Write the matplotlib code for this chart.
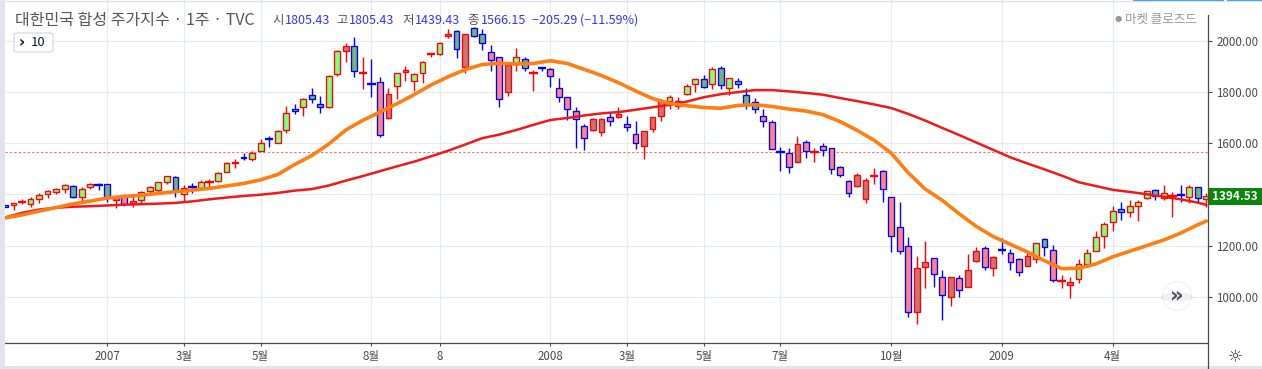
import numpy as np
import pandas as pd
import matplotlib
matplotlib.use('Agg')
import matplotlib.pyplot as plt
from matplotlib.patches import Rectangle, Circle, FancyBboxPatch
from matplotlib.lines import Line2D

plt.rcParams['font.family'] = ['Noto Sans CJK KR', 'DejaVu Sans']

# 주봉 (2006-10-09 ~ 2009-06-22)
weeks = pd.date_range('2006-10-09', periods=142, freq='W-MON')

opens = [1358, 1359, 1370, 1363, 1381, 1400, 1411, 1420, 1432, 1389, 1428, 1437.5,
         1440, 1378, 1398, 1368, 1378, 1415, 1417, 1450, 1467, 1401, 1429.5, 1424,
         1447, 1454, 1489, 1522, 1548, 1537, 1571, 1616.5, 1602, 1652, 1734, 1741,
         1789, 1754, 1741, 1870, 1962, 1980, 1876, 1831.5, 1839, 1700, 1825, 1878,
         1845, 1874, 1948, 1948, 2020, 2040, 1900, 2050, 2026, 1956, 1936, 1802,
         1909, 1928, 1876, 1893.5, 1889, 1815, 1780, 1726, 1668, 1652, 1645, 1702,
         1702, 1675, 1635, 1589, 1656, 1707, 1767, 1746, 1792, 1831, 1850, 1831,
         1893, 1817, 1845, 1789, 1763, 1707, 1682, 1567.5, 1561, 1528, 1606, 1567,
         1590, 1580, 1506, 1453, 1434, 1381, 1472, 1492, 1389, 1271, 1198, 939,
         1118, 1150, 1076, 998, 1072, 1039, 1139, 1189, 1111, 1183.5, 1170, 1148,
         1121, 1146, 1226, 1183, 1063, 1045, 1069, 1127, 1179, 1239, 1291, 1342,
         1330, 1356, 1385, 1416, 1385, 1394, 1398.5, 1391, 1428, 1381]
highs = [1360, 1368, 1381, 1391, 1404, 1417, 1424, 1439, 1437, 1428, 1444, 1444,
         1442, 1390, 1399, 1394, 1412, 1434, 1449, 1473, 1472, 1437, 1444, 1456,
         1460, 1486, 1528, 1537, 1563, 1571, 1616, 1629, 1652, 1746, 1754, 1776,
         1815, 1784, 1867, 1965, 1993, 2017, 1936, 1928, 1860, 1815, 1876, 1902,
         1876, 1921, 1954, 1997, 2046, 2043, 2028, 2056, 2046, 1984, 1938, 1919,
         1971, 1939, 1887, 1900, 1893, 1854, 1782, 1743, 1674, 1698, 1697, 1721,
         1741, 1707, 1687, 1650, 1704, 1769, 1789, 1782, 1831, 1852, 1867, 1900,
         1902, 1856, 1854, 1815, 1776, 1733, 1691, 1584, 1580, 1629, 1613, 1580,
         1600, 1582, 1511, 1456, 1483, 1463, 1502, 1496, 1392, 1369, 1234, 1159,
         1218, 1152, 1105, 1078, 1085, 1166, 1196, 1198, 1159, 1228, 1186, 1150,
         1179, 1211, 1228, 1202, 1085, 1076, 1148, 1186, 1257, 1291, 1355, 1369,
         1378, 1378, 1414, 1420, 1437, 1411, 1437, 1437, 1430, 1404]
lows = [1350, 1339, 1361, 1352, 1365, 1385, 1400, 1404, 1385, 1372, 1420, 1417,
        1372, 1346, 1355, 1352, 1363, 1407, 1407, 1441, 1391, 1376, 1404, 1420,
        1430, 1450, 1488, 1505, 1535, 1532, 1569, 1587, 1600, 1639, 1713, 1708,
        1757, 1720, 1739, 1863, 1919, 1860, 1811, 1782, 1626, 1694, 1772, 1845,
        1804, 1837, 1939, 1945, 2013, 1932, 1874, 2017, 1965, 1884, 1743, 1785,
        1884, 1884, 1806, 1884, 1821, 1763, 1691, 1580, 1572, 1650, 1629, 1669,
        1700, 1649, 1577, 1537, 1645, 1687, 1734, 1734, 1790, 1802, 1815, 1811,
        1811, 1789, 1815, 1733, 1717, 1665, 1576, 1493, 1485, 1526, 1544, 1528,
        1551, 1479, 1467, 1391, 1430, 1365, 1441, 1372, 1176, 1168, 922, 892,
        1035, 1039, 909, 965, 998, 1037, 1137, 1105, 1082, 1166, 1105, 1082,
        1119, 1133, 1160, 1057, 1035, 994, 1053, 1118, 1177, 1192, 1258, 1300,
        1313, 1297, 1383, 1378, 1378, 1313, 1372, 1368, 1365, 1352]
closes = [1352, 1368, 1370, 1382, 1398, 1413, 1420, 1437, 1391, 1421, 1441, 1437,
          1387, 1389, 1363, 1374, 1411, 1430, 1447, 1471, 1416, 1424, 1429, 1447,
          1447, 1483, 1522, 1528, 1542, 1563, 1600, 1616, 1648, 1717, 1726, 1772,
          1772, 1741, 1863, 1962, 1982, 1884, 1876, 1831, 1632, 1792, 1874, 1887,
          1870, 1919, 1948, 1993, 2026, 1968, 2026, 2020, 1991, 1926, 1772, 1906,
          1936, 1893, 1876, 1893, 1863, 1780, 1733, 1694, 1620, 1695, 1695, 1686,
          1713, 1662, 1600, 1648, 1702, 1767, 1780, 1767, 1824, 1850, 1821, 1889,
          1828, 1854, 1832, 1750, 1733, 1686, 1578, 1567, 1506, 1596, 1571, 1567,
          1574, 1498, 1475, 1404, 1475, 1456, 1472, 1420, 1239, 1177, 939, 1114,
          1135, 1088, 1006, 1076, 1026, 1103, 1180, 1118, 1157, 1183, 1135, 1096,
          1160, 1209, 1193, 1066, 1063, 1057, 1127, 1170, 1235, 1283, 1335, 1330,
          1355, 1370, 1412, 1394, 1404, 1394, 1398, 1428, 1385, 1394.53]
# 몸통 색 신호 (1: 녹색, 0: 분홍)
signal = [1, 1, 1, 1, 1, 1, 1, 1, 1, 1, 1, 1, 1, 0, 0, 0,
          1, 1, 1, 1, 1, 1, 1, 1, 1, 1, 1, 1, 1, 1, 1, 1, 1, 1, 1, 1, 1, 1, 1, 1,
          0, 1, 1, 0, 0, 0, 1, 0, 1, 1, 1, 1, 0, 1, 0, 1, 1, 0, 0, 0, 1, 1, 0, 0,
          0, 0, 0, 0, 0, 0, 0, 0, 0, 0, 0, 0, 0, 0,
          1, 1, 1, 1, 1, 1, 1, 1, 1, 1, 1,
          0, 0, 0, 0, 0, 0, 0, 0, 0, 0, 0, 0, 0, 0, 0, 0,
          0, 0, 0, 0, 0, 0, 0, 0, 0, 0, 0, 0, 0, 0, 0, 0,
          1, 1, 0, 0, 0,
          1, 1, 1, 1, 1, 1, 1, 1, 1, 1, 1, 1, 1, 1, 1, 1]

# 이동평균선 (2주 간격으로 읽은 값 + 마지막 주)
ma_fast = [1308, 1320, 1335, 1349, 1363, 1374, 1386, 1392, 1397, 1404, 1411, 1417,
           1424, 1433, 1443, 1457, 1478, 1517, 1552, 1597, 1652, 1690, 1722, 1755,
           1790, 1828, 1860, 1888, 1908, 1913, 1910, 1912, 1923, 1912, 1889, 1865,
           1837, 1805, 1775, 1756, 1747, 1740, 1737, 1748, 1751, 1744, 1734, 1726,
           1712, 1685, 1651, 1612, 1562, 1485, 1421, 1377, 1324, 1275, 1235, 1205,
           1175, 1141, 1110, 1111, 1128, 1156, 1178, 1200, 1222, 1249, 1282, 1296]
ma_slow = [1310, 1328, 1341, 1348, 1352, 1354, 1357, 1360, 1362, 1364, 1367, 1373,
           1381, 1388, 1394, 1399, 1406, 1415, 1421, 1435, 1454, 1472, 1491, 1510,
           1528, 1549, 1571, 1595, 1620, 1634, 1652, 1672, 1691, 1699, 1709, 1717,
           1722, 1731, 1741, 1750, 1763, 1780, 1792, 1800, 1808, 1808, 1803, 1797,
           1790, 1777, 1765, 1752, 1738, 1715, 1689, 1660, 1632, 1603, 1574, 1545,
           1521, 1498, 1474, 1448, 1433, 1418, 1410, 1401, 1391, 1381, 1368, 1359]

title = '대한민국 합성 주가지수 · 1주 · TVC'
ohlc_labels = ['시', '고', '저', '종']
ohlc_values = [1805.43, 1805.43, 1439.43, 1566.15]
change = '−205.29 (−11.59%)'
last_price = 1394.53

tick_weeks = ['2007-01-01', '2007-03-05', '2007-05-07', '2007-08-06', '2007-10-01',
              '2007-12-31', '2008-03-03', '2008-05-05', '2008-07-07', '2008-10-06',
              '2009-01-05', '2009-04-06']
tick_labels = ['2007', '3월', '5월', '8월', '8', '2008', '3월', '5월', '7월', '10월',
               '2009', '4월']
price_ticks = [1000, 1200, 1400, 1600, 1800, 2000]

W, H = 1262, 369


def fx(x):
    return x / W


def fy(y):
    return 1 - y / H


fig = plt.figure(figsize=(W / 100, H / 100), dpi=100)
fig.patch.set_facecolor('white')
ax = fig.add_axes([fx(5), fy(343), (1208 - 5) / W, 343 / H])

k = np.arange(len(weeks))
o = np.array(opens, float)
c = np.array(closes, float)
hi = np.array(highs, float)
lo = np.array(lows, float)
sig = np.array(signal, bool)

up = c >= o
edges = np.where(up, '#ff0000', '#0000ff')
fills = np.where(sig, np.where(up, '#84fc84', '#74b474'),
                 np.where(up, '#c87474', '#ff8585'))

body = np.abs(c - o)
cross = body < 2.5
normal = ~cross

ax.vlines(k, lo, hi, colors=edges, lw=1.0, zorder=2)
ax.bar(k[normal], body[normal], bottom=np.minimum(o, c)[normal], width=0.68,
       color=fills[normal], edgecolor=edges[normal], linewidth=0.95, zorder=3)
ax.hlines(c[cross], k[cross] - 0.5, k[cross] + 0.5, colors=edges[cross], lw=1.7, zorder=3)

ma_k = list(k[::2]) + [k[-1]]
ax.plot(ma_k, ma_slow, color='#f01818', lw=1.8, zorder=4, solid_capstyle='round')
ax.plot(ma_k, ma_fast, color='#ff7d12', lw=2.6, zorder=4, solid_capstyle='round')

ax.axhline(ohlc_values[3], color='#ff6a6a', lw=0.8, ls=(0, (2, 2)), zorder=1.5)

ax.set_xlim(0, 141.19)
ax.set_ylim(819.2, 2160.3)

tick_pos = [weeks.get_loc(pd.Timestamp(d)) for d in tick_weeks]
ax.set_xticks(tick_pos)
ax.set_xticklabels(tick_labels)
ax.yaxis.tick_right()
ax.set_yticks(price_ticks)
# 1400 라벨은 현재가 라벨에 가려짐
ax.set_yticklabels(['' if p == 1400 else f'{p:.2f}' for p in price_ticks])
ax.tick_params(axis='x', length=2, width=0.8, color='#4a4a4a', labelsize=8.3,
               labelcolor='#4a4a4a', pad=3)
ax.tick_params(axis='y', length=3, width=0.8, color='#4a4a4a', labelsize=8.3,
               labelcolor='#4a4a4a', pad=3)
ax.grid(True, color='#e4eaf0', lw=0.8)
ax.set_axisbelow(True)
for s in ['top', 'left', 'right']:
    ax.spines[s].set_visible(False)
ax.spines['bottom'].set_color('#4a4a4a')
ax.spines['bottom'].set_linewidth(0.9)

# 가격축 세로선, 테두리
fig.add_artist(Line2D([fx(1208), fx(1208)], [fy(15), fy(369)], color='#4a4a4a', lw=0.9))
fig.add_artist(Rectangle((0, 0), fx(5), 1, color='#e0e3eb', lw=0))
fig.add_artist(Rectangle((0, 0), 1, 3 / H, color='#e0e3eb', lw=0))
fig.add_artist(Line2D([0, 1], [fy(0.5), fy(0.5)], color='#e0e3eb', lw=1))
fig.add_artist(Rectangle((fx(1133), fy(2)), fx(91), 2 / H, color='#2196f3', lw=0))
fig.add_artist(Rectangle((fx(1227), fy(2)), fx(35), 2 / H, color='#2196f3', lw=0))

# 제목
fig.text(fx(15), fy(20.5), title, fontsize=11.5, color='#555555', va='center')
lab_x = [272.7, 336.7, 402, 467]
val_x = [284.5, 349, 414.5, 481]
for lx, vx, lab, val in zip(lab_x, val_x, ohlc_labels, ohlc_values):
    fig.text(fx(lx), fy(20.5), lab, fontsize=9, color='#555555', va='center')
    fig.text(fx(vx), fy(20.5), f'{val:.2f}', fontsize=9, color='#3333ff', va='center')
fig.text(fx(532), fy(20.5), change, fontsize=9, color='#3333ff', va='center')

fig.text(fx(1118), fy(19), '●', fontsize=6, color='#9598a1', va='center', ha='center',
         family='DejaVu Sans')
fig.text(fx(1125), fy(19), '마켓 클로즈드', fontsize=9, color='#9598a1', va='center')

box = FancyBboxPatch((fx(14), fy(52)), fx(39), 19 / H,
                     boxstyle='round,pad=0,rounding_size=0.004',
                     fc='white', ec='#d1d4dc', lw=0.8, transform=fig.transFigure)
fig.add_artist(box)
fig.text(fx(22), fy(42.5), '›', fontsize=11, color='#131722', va='center', ha='center',
         family='DejaVu Sans', weight='bold')
fig.text(fx(31), fy(42.5), '10', fontsize=9.5, color='#131722', va='center')

# 현재가 라벨
fig.add_artist(Rectangle((fx(1208), fy(204.5)), fx(54), 17 / H, color='#0a870a', lw=0))
fig.text(fx(1235), fy(196), f'{last_price:.2f}', fontsize=8.5, color='white',
         va='center', ha='center', weight='bold')

# 스크롤 버튼
fig.add_artist(Circle((fx(1177), fy(297)), 16 / W, color='#000000', alpha=0.06, lw=0,
                      transform=fig.transFigure))
ax_btn = fig.add_axes([fx(1162), fy(311), 30 / W, 30 / H])
ax_btn.set_xlim(-1, 1)
ax_btn.set_ylim(-1, 1)
ax_btn.add_patch(Circle((0, 0), 0.97, fc='white', ec='#ececec', lw=0.6))
ax_btn.text(0, 0.05, '»', fontsize=15, color='#50535e', ha='center', va='center',
            family='DejaVu Sans', weight='bold')
ax_btn.axis('off')

fig.text(fx(1235), fy(357), '☼', fontsize=12, color='#333333', ha='center', va='center',
         family='DejaVu Sans')

fig.savefig('out.png', dpi=100)
